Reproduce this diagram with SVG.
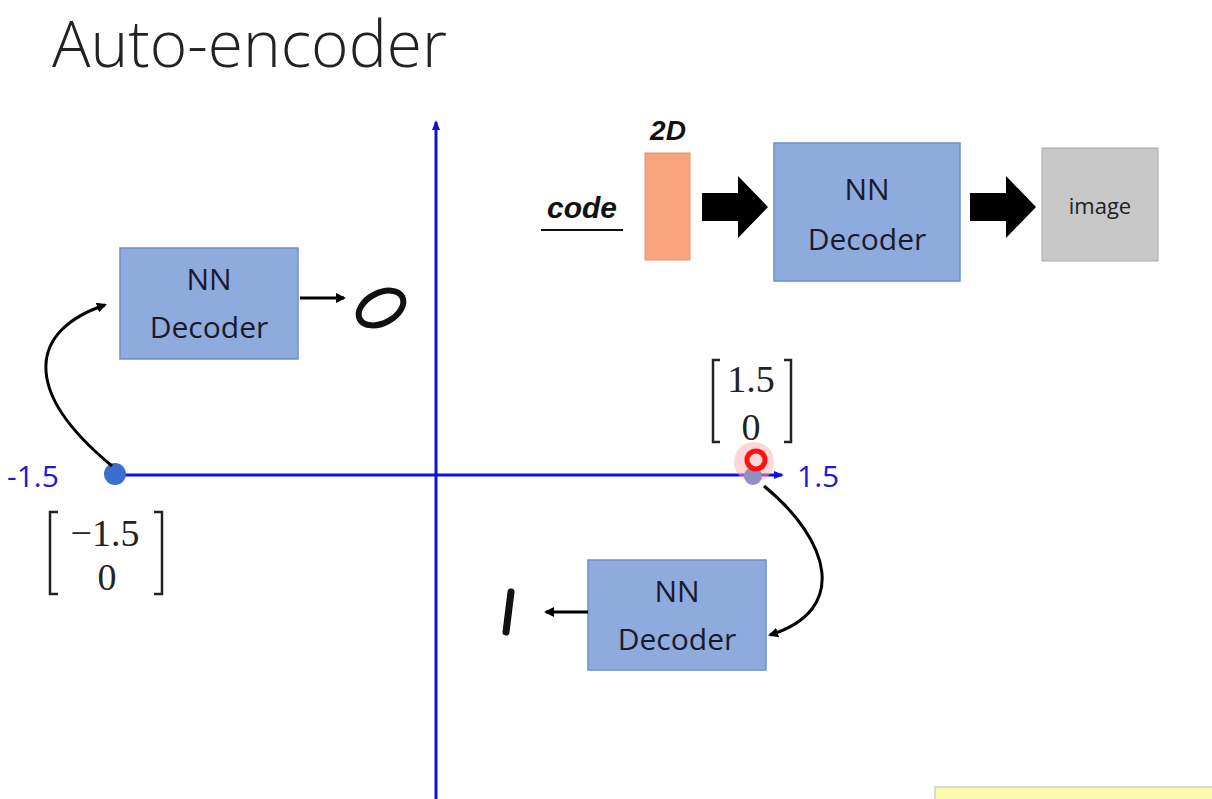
<svg xmlns="http://www.w3.org/2000/svg" width="1212" height="799" viewBox="0 0 1212 799">
<defs>
<style>
.box{fill:#8faadc;stroke:#6f8fcf;stroke-width:1.5}
.lbl{font-family:"Open Sans","Liberation Sans",sans-serif;font-size:30px;fill:#1a1a2e;text-anchor:middle}
.ax{stroke:#1010e0;stroke-width:3;fill:none}
.num{font-family:"Open Sans","Liberation Sans",sans-serif;font-size:30px;fill:#1a1ad0}
.mat{font-family:"Liberation Serif",serif;font-size:38px;fill:#222;text-anchor:middle}
.br{stroke:#222;stroke-width:2.5;fill:none}
.con{stroke:#000;stroke-width:3;fill:none}
</style>
<marker id="ah" markerWidth="10" markerHeight="10" refX="8" refY="5" orient="auto" markerUnits="userSpaceOnUse"><path d="M0,0 L10,5 L0,10 Z" fill="#000"/></marker>
<marker id="axa" markerWidth="10" markerHeight="10" refX="8" refY="5" orient="auto" markerUnits="userSpaceOnUse"><path d="M0,1 L10,5 L0,9 Z" fill="#1010e0"/></marker>
</defs>
<rect width="1212" height="799" fill="#fff"/>
<text x="52" y="67" font-family="Open Sans, Liberation Sans, sans-serif" font-size="64" font-weight="300" fill="#222">Auto-encoder</text>
<g id="axes">
<line class="ax" x1="436" y1="799" x2="436" y2="122" marker-end="url(#axa)"/>
<line class="ax" x1="110" y1="475" x2="782" y2="475" marker-end="url(#axa)"/>
<text class="num" x="7" y="487">-1.5</text>
<text class="num" x="797" y="487">1.5</text>
</g>
<g id="pt-left"><circle cx="115" cy="474" r="11" fill="#3a6fd0"/>
<path class="br" d="M58,512 h-8 v82 h8 M154,512 h8 v82 h-8"/>
<text class="mat" x="105" y="546">−1.5</text><text class="mat" x="107" y="590">0</text></g>
<g id="pt-right"><circle cx="754" cy="462" r="20" fill="#ffb0b0" opacity="0.5"/>
<circle cx="753" cy="476" r="9" fill="#9090c0"/>
<circle cx="756" cy="460" r="9" fill="none" stroke="#ff1010" stroke-width="5"/>
<path class="br" d="M720,360 h-7 v82 h7 M784,360 h7 v82 h-7"/>
<text class="mat" x="751" y="392">1.5</text><text class="mat" x="751" y="440">0</text></g>
<g id="dec1"><rect class="box" x="120" y="248" width="178" height="111"/>
<text class="lbl" x="209" y="290">NN</text><text class="lbl" x="209" y="338">Decoder</text></g>
<g id="dec2"><rect class="box" x="588" y="560" width="178" height="110"/>
<text class="lbl" x="677" y="602">NN</text><text class="lbl" x="677" y="650">Decoder</text></g>
<g id="dec3"><rect class="box" x="774" y="143" width="186" height="138"/>
<text class="lbl" x="867" y="200">NN</text><text class="lbl" x="867" y="250">Decoder</text></g>
<g id="code"><rect x="645" y="153" width="45" height="107" fill="#f8a47c" stroke="#e89070"/>
<text x="668" y="140" font-family="Liberation Sans, sans-serif" font-size="28" font-weight="bold" font-style="italic" text-anchor="middle" fill="#111">2D</text>
<text x="582" y="218" font-family="Liberation Sans, sans-serif" font-size="30" font-weight="bold" font-style="italic" text-anchor="middle" fill="#111">code</text>
<line x1="541" y1="230" x2="623" y2="230" stroke="#111" stroke-width="2"/></g>
<g id="image"><rect x="1042" y="148" width="116" height="113" fill="#c8c8c8" stroke="#aaa"/>
<text x="1100" y="214" font-family="Open Sans, Liberation Sans, sans-serif" font-size="22" text-anchor="middle" fill="#222">image</text></g>
<g id="digit0"><ellipse cx="381" cy="308" rx="24" ry="15" transform="rotate(-28 381 308)" fill="none" stroke="#111" stroke-width="6"/></g>
<g id="digit1"><path d="M511,592 L506,632" stroke="#111" stroke-width="7" stroke-linecap="round"/></g>
<g id="connectors">
<path class="con" d="M112,466 C20,390 30,330 105,305" marker-end="url(#ah)"/>
<path class="con" d="M764,486 C830,540 850,610 770,635" marker-end="url(#ah)"/>
<line class="con" x1="300" y1="298" x2="344" y2="298" marker-end="url(#ah)"/>
<line class="con" x1="588" y1="612" x2="546" y2="612" marker-end="url(#ah)"/>
<path d="M702,193 h36 v-17 l30,31 l-30,31 v-17 h-36 Z" fill="#000"/>
<path d="M970,193 h36 v-17 l30,31 l-30,31 v-17 h-36 Z" fill="#000"/>
</g>
<rect x="935" y="787" width="280" height="20" fill="#fbfbb0" stroke="#bbb"/>
</svg>
